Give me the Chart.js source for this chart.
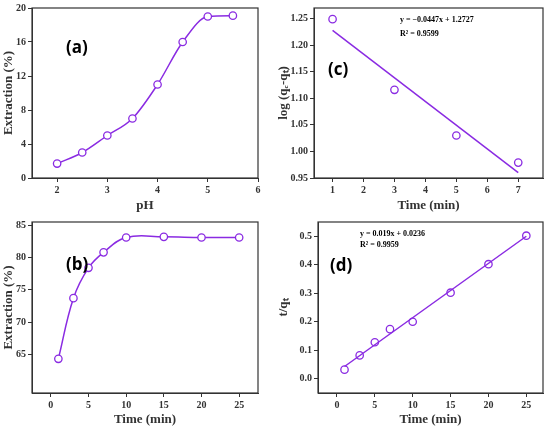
<!DOCTYPE html>
<html>
<head>
<meta charset="utf-8">
<script src="https://cdn.jsdelivr.net/npm/chart.js@4"></script>
<style>
  body { margin: 0; background: #fff; }
  #wrap { position: relative; width: 550px; height: 428px; }
  .pane { position: absolute; width: 275px; height: 214px; }
  .tag { position: absolute; font: bold 17px "Open Sans", sans-serif; color: #000; }
  .eq { position: absolute; font: bold 8px "Liberation Serif", serif; color: #000; line-height: 11px; }
</style>
</head>
<body>
<div id="wrap">
  <div class="pane" style="left:0;top:0"><canvas id="ca"></canvas></div>
  <div class="pane" style="left:0;top:214px"><canvas id="cb"></canvas></div>
  <div class="pane" style="left:275px;top:0"><canvas id="cc"></canvas></div>
  <div class="pane" style="left:275px;top:214px"><canvas id="cd"></canvas></div>
  <div class="tag" style="left:66px;top:35px">(a)</div>
  <div class="tag" style="left:66px;top:252px">(b)</div>
  <div class="tag" style="left:328px;top:57px">(c)</div>
  <div class="tag" style="left:330px;top:253px">(d)</div>
  <div class="eq" style="left:400px;top:14px">y = −0.0447x + 1.2727<br><span style="position:relative;top:3px">R² = 0.9599</span></div>
  <div class="eq" style="left:360px;top:228px">y = 0.019x + 0.0236<br>R² = 0.9959</div>
</div>
<script>
const phA = [2, 2.5, 3, 3.5, 4, 4.5, 5, 5.5];
const extA = [1.7, 3, 5, 7, 11, 16, 19, 19.1];
const timeB = [1, 3, 5, 7, 10, 15, 20, 25];
const extB = [64.3, 73.7, 78.4, 80.8, 83.1, 83.2, 83.1, 83.1];
const timeC = [1, 3, 5, 7];
const logC = [1.249, 1.116, 1.030, 0.979];
const fitCx = [1, 7];
const fitCy = [1.228, 0.960];
const timeD = [1, 3, 5, 7, 10, 15, 20, 25];
const tqD = [0.032, 0.082, 0.128, 0.174, 0.200, 0.302, 0.402, 0.502];
const fitDx = [1, 25];
const fitDy = [0.043, 0.500];

const ticksAx = [2, 3, 4, 5, 6], ticksAy = [0, 4, 8, 12, 16, 20];
const ticksBx = [0, 5, 10, 15, 20, 25], ticksBy = [65, 70, 75, 80, 85];
const ticksCx = [1, 2, 3, 4, 5, 6, 7], ticksCy = [0.95, 1.00, 1.05, 1.10, 1.15, 1.20, 1.25];
const ticksDx = [0, 5, 10, 15, 20, 25], ticksDy = [0, 0.1, 0.2, 0.3, 0.4, 0.5];

const purple = '#8a2be2';
const tickFont = { family: 'Liberation Serif', weight: 'bold', size: 10 };
const titleFont = { family: 'Liberation Serif', weight: 'bold', size: 13 };

const frame = {
  id: 'frame',
  afterDraw(chart) {
    const { ctx, chartArea: a } = chart;
    ctx.save();
    ctx.strokeStyle = '#333';
    ctx.lineWidth = 1.2;
    ctx.strokeRect(a.left, a.top, a.right - a.left, a.bottom - a.top);
    ctx.restore();
  }
};

function pts(xs, ys) { return xs.map((x, i) => ({ x: x, y: ys[i] })); }

function axis(min, max, ticks, title, size, decimals) {
  return {
    type: 'linear', min: min, max: max,
    afterBuildTicks: s => { s.ticks = ticks.map(v => ({ value: v })); },
    afterFit: s => { if (s.isHorizontal()) s.height = size; else s.width = size; },
    grid: { drawOnChartArea: false, tickLength: 4, color: '#333' },
    border: { color: '#333' },
    ticks: { color: '#333', font: tickFont, padding: 2,
      callback: v => decimals == null ? v : v.toFixed(decimals) },
    title: { display: true, text: title, color: '#333', font: titleFont, padding: 1 }
  };
}

function make(id, datasets, x, y, pad) {
  new Chart(document.getElementById(id), {
    type: 'scatter',
    data: { datasets: datasets },
    options: {
      responsive: false, animation: false,
      layout: { padding: pad },
      scales: { x: x, y: y },
      plugins: { legend: { display: false }, tooltip: { enabled: false } }
    },
    plugins: [frame]
  });
}

const marker = { pointRadius: 3.7, pointBorderWidth: 1.3, pointBorderColor: purple, pointBackgroundColor: '#fff' };

document.querySelectorAll('canvas').forEach(c => { c.width = 275; c.height = 214; });

make('ca', [{ data: pts(phA, extA), showLine: true, borderColor: purple, borderWidth: 1.5, cubicInterpolationMode: 'monotone', ...marker }],
  axis(1.5, 6, ticksAx, 'pH', 36), axis(0, 20, ticksAy, 'Extraction (%)', 32), { top: 6, right: 17 });

make('cb', [{ data: pts(timeB, extB), showLine: true, borderColor: purple, borderWidth: 1.5, tension: 0.4, ...marker }],
  axis(-2.5, 27.5, ticksBx, 'Time (min)', 35), axis(59, 85.5, ticksBy, 'Extraction (%)', 32), { top: 6, right: 17 });

make('cc', [
    { data: pts(fitCx, fitCy), showLine: true, borderColor: purple, borderWidth: 1.5, pointRadius: 0 },
    { data: pts(timeC, logC), ...marker }
  ],
  axis(0.4, 7.8, ticksCx, 'Time (min)', 36), axis(0.95, 1.27, ticksCy, 'log (qₑ-qₜ)', 39, 2), { top: 5, right: 7 });

make('cd', [
    { data: pts(fitDx, fitDy), showLine: true, borderColor: purple, borderWidth: 1.5, pointRadius: 0 },
    { data: pts(timeD, tqD), ...marker }
  ],
  axis(-2.5, 27.2, ticksDx, 'Time (min)', 35), axis(-0.05, 0.55, ticksDy, 't/qₜ', 43, 1), { top: 5, right: 7 });
</script>
</body>
</html>
